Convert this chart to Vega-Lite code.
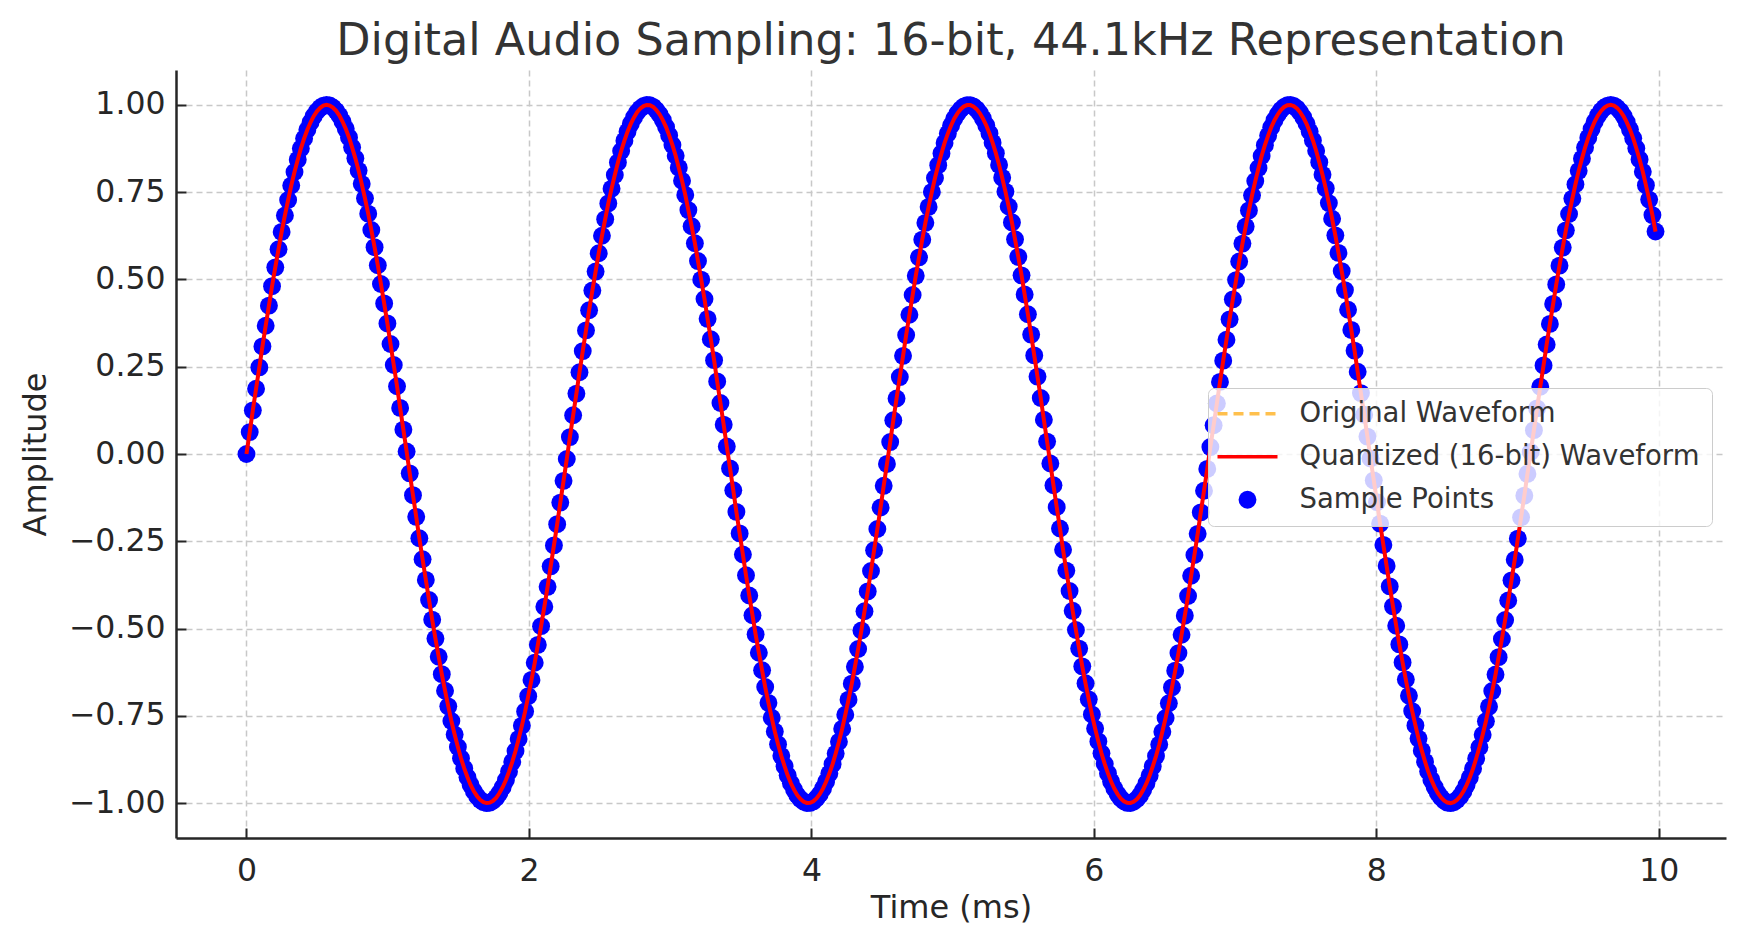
{
"$schema": "https://vega.github.io/schema/vega-lite/v6.json",
"width": 1550, "height": 768,
"autosize": {"type": "none"},
"padding": {"left": 176, "top": 70, "right": 20, "bottom": 109},
"background": "white",
"config": {"view": {"stroke": null}, "font": "DejaVu Sans"},
"title": {"text": "Digital Audio Sampling: 16-bit, 44.1kHz Representation", "font": "DejaVu Sans", "fontSize": 44.5, "fontWeight": "normal", "color": "#333333", "anchor": "middle", "baseline": "alphabetic", "offset": -29},
"datasets": {"samples": [
{"t":0,"y":0},{"t":0.023,"y":0.0627},{"t":0.045,"y":0.1251},{"t":0.068,"y":0.187},{"t":0.091,"y":0.2481},{"t":0.113,"y":0.3083},{"t":0.136,"y":0.3673},{"t":0.159,"y":0.4249},{"t":0.181,"y":0.4807},{"t":0.204,"y":0.5347},
{"t":0.227,"y":0.5866},{"t":0.249,"y":0.6362},{"t":0.272,"y":0.6833},{"t":0.295,"y":0.7277},{"t":0.317,"y":0.7692},{"t":0.34,"y":0.8078},{"t":0.363,"y":0.8431},{"t":0.385,"y":0.8751},{"t":0.408,"y":0.9037},{"t":0.431,"y":0.9288},
{"t":0.454,"y":0.9502},{"t":0.476,"y":0.9678},{"t":0.499,"y":0.9817},{"t":0.522,"y":0.9917},{"t":0.544,"y":0.9978},{"t":0.567,"y":1},{"t":0.59,"y":0.9982},{"t":0.612,"y":0.9926},{"t":0.635,"y":0.983},{"t":0.658,"y":0.9696},
{"t":0.68,"y":0.9523},{"t":0.703,"y":0.9314},{"t":0.726,"y":0.9068},{"t":0.748,"y":0.8785},{"t":0.771,"y":0.8469},{"t":0.794,"y":0.8119},{"t":0.816,"y":0.7738},{"t":0.839,"y":0.7326},{"t":0.862,"y":0.6885},{"t":0.884,"y":0.6417},
{"t":0.907,"y":0.5924},{"t":0.93,"y":0.5407},{"t":0.952,"y":0.487},{"t":0.975,"y":0.4313},{"t":0.998,"y":0.374},{"t":1.02,"y":0.3151},{"t":1.043,"y":0.255},{"t":1.066,"y":0.194},{"t":1.088,"y":0.1321},{"t":1.111,"y":0.0698},
{"t":1.134,"y":0.0071},{"t":1.156,"y":-0.0555},{"t":1.179,"y":-0.118},{"t":1.202,"y":-0.18},{"t":1.224,"y":-0.2412},{"t":1.247,"y":-0.3015},{"t":1.27,"y":-0.3607},{"t":1.293,"y":-0.4184},{"t":1.315,"y":-0.4745},{"t":1.338,"y":-0.5287},
{"t":1.361,"y":-0.5808},{"t":1.383,"y":-0.6307},{"t":1.406,"y":-0.6781},{"t":1.429,"y":-0.7228},{"t":1.451,"y":-0.7647},{"t":1.474,"y":-0.8035},{"t":1.497,"y":-0.8392},{"t":1.519,"y":-0.8716},{"t":1.542,"y":-0.9006},{"t":1.565,"y":-0.9261},
{"t":1.587,"y":-0.9479},{"t":1.61,"y":-0.966},{"t":1.633,"y":-0.9803},{"t":1.655,"y":-0.9907},{"t":1.678,"y":-0.9973},{"t":1.701,"y":-0.9999},{"t":1.723,"y":-0.9987},{"t":1.746,"y":-0.9934},{"t":1.769,"y":-0.9843},{"t":1.791,"y":-0.9713},
{"t":1.814,"y":-0.9545},{"t":1.837,"y":-0.934},{"t":1.859,"y":-0.9097},{"t":1.882,"y":-0.8819},{"t":1.905,"y":-0.8507},{"t":1.927,"y":-0.8161},{"t":1.95,"y":-0.7783},{"t":1.973,"y":-0.7374},{"t":1.995,"y":-0.6936},{"t":2.018,"y":-0.6471},
{"t":2.041,"y":-0.5981},{"t":2.063,"y":-0.5467},{"t":2.086,"y":-0.4932},{"t":2.109,"y":-0.4377},{"t":2.132,"y":-0.3805},{"t":2.154,"y":-0.3219},{"t":2.177,"y":-0.2619},{"t":2.2,"y":-0.2009},{"t":2.222,"y":-0.1392},{"t":2.245,"y":-0.0769},
{"t":2.268,"y":-0.0142},{"t":2.29,"y":0.0484},{"t":2.313,"y":0.1109},{"t":2.336,"y":0.173},{"t":2.358,"y":0.2343},{"t":2.381,"y":0.2948},{"t":2.404,"y":0.354},{"t":2.426,"y":0.4119},{"t":2.449,"y":0.4682},{"t":2.472,"y":0.5226},
{"t":2.494,"y":0.575},{"t":2.517,"y":0.6251},{"t":2.54,"y":0.6728},{"t":2.562,"y":0.7178},{"t":2.585,"y":0.76},{"t":2.608,"y":0.7993},{"t":2.63,"y":0.8353},{"t":2.653,"y":0.8681},{"t":2.676,"y":0.8975},{"t":2.698,"y":0.9234},
{"t":2.721,"y":0.9456},{"t":2.744,"y":0.9641},{"t":2.766,"y":0.9789},{"t":2.789,"y":0.9897},{"t":2.812,"y":0.9967},{"t":2.834,"y":0.9998},{"t":2.857,"y":0.999},{"t":2.88,"y":0.9942},{"t":2.902,"y":0.9855},{"t":2.925,"y":0.973},
{"t":2.948,"y":0.9566},{"t":2.971,"y":0.9365},{"t":2.993,"y":0.9127},{"t":3.016,"y":0.8853},{"t":3.039,"y":0.8544},{"t":3.061,"y":0.8202},{"t":3.084,"y":0.7827},{"t":3.107,"y":0.7422},{"t":3.129,"y":0.6987},{"t":3.152,"y":0.6525},
{"t":3.175,"y":0.6038},{"t":3.197,"y":0.5527},{"t":3.22,"y":0.4994},{"t":3.243,"y":0.4441},{"t":3.265,"y":0.3871},{"t":3.288,"y":0.3286},{"t":3.311,"y":0.2688},{"t":3.333,"y":0.2079},{"t":3.356,"y":0.1462},{"t":3.379,"y":0.084},
{"t":3.401,"y":0.0214},{"t":3.424,"y":-0.0413},{"t":3.447,"y":-0.1038},{"t":3.469,"y":-0.1659},{"t":3.492,"y":-0.2274},{"t":3.515,"y":-0.2879},{"t":3.537,"y":-0.3474},{"t":3.56,"y":-0.4054},{"t":3.583,"y":-0.4619},{"t":3.605,"y":-0.5166},
{"t":3.628,"y":-0.5692},{"t":3.651,"y":-0.6196},{"t":3.673,"y":-0.6675},{"t":3.696,"y":-0.7129},{"t":3.719,"y":-0.7554},{"t":3.741,"y":-0.795},{"t":3.764,"y":-0.8314},{"t":3.787,"y":-0.8646},{"t":3.81,"y":-0.8943},{"t":3.832,"y":-0.9206},
{"t":3.855,"y":-0.9433},{"t":3.878,"y":-0.9622},{"t":3.9,"y":-0.9774},{"t":3.923,"y":-0.9887},{"t":3.946,"y":-0.9962},{"t":3.968,"y":-0.9997},{"t":3.991,"y":-0.9993},{"t":4.014,"y":-0.9949},{"t":4.036,"y":-0.9867},{"t":4.059,"y":-0.9746},
{"t":4.082,"y":-0.9586},{"t":4.104,"y":-0.9389},{"t":4.127,"y":-0.9155},{"t":4.15,"y":-0.8885},{"t":4.172,"y":-0.8581},{"t":4.195,"y":-0.8242},{"t":4.218,"y":-0.7871},{"t":4.24,"y":-0.7469},{"t":4.263,"y":-0.7038},{"t":4.286,"y":-0.6579},
{"t":4.308,"y":-0.6095},{"t":4.331,"y":-0.5586},{"t":4.354,"y":-0.5055},{"t":4.376,"y":-0.4505},{"t":4.399,"y":-0.3937},{"t":4.422,"y":-0.3353},{"t":4.444,"y":-0.2756},{"t":4.467,"y":-0.2149},{"t":4.49,"y":-0.1533},{"t":4.512,"y":-0.0911},
{"t":4.535,"y":-0.0285},{"t":4.558,"y":0.0342},{"t":4.58,"y":0.0967},{"t":4.603,"y":0.1589},{"t":4.626,"y":0.2204},{"t":4.649,"y":0.2811},{"t":4.671,"y":0.3407},{"t":4.694,"y":0.3989},{"t":4.717,"y":0.4556},{"t":4.739,"y":0.5104},
{"t":4.762,"y":0.5633},{"t":4.785,"y":0.614},{"t":4.807,"y":0.6622},{"t":4.83,"y":0.7079},{"t":4.853,"y":0.7507},{"t":4.875,"y":0.7906},{"t":4.898,"y":0.8274},{"t":4.921,"y":0.861},{"t":4.943,"y":0.8912},{"t":4.966,"y":0.9178},
{"t":4.989,"y":0.9409},{"t":5.011,"y":0.9603},{"t":5.034,"y":0.9758},{"t":5.057,"y":0.9876},{"t":5.079,"y":0.9955},{"t":5.102,"y":0.9995},{"t":5.125,"y":0.9995},{"t":5.147,"y":0.9956},{"t":5.17,"y":0.9879},{"t":5.193,"y":0.9761},
{"t":5.215,"y":0.9607},{"t":5.238,"y":0.9414},{"t":5.261,"y":0.9184},{"t":5.283,"y":0.8918},{"t":5.306,"y":0.8617},{"t":5.329,"y":0.8282},{"t":5.351,"y":0.7915},{"t":5.374,"y":0.7516},{"t":5.397,"y":0.7089},{"t":5.42,"y":0.6633},
{"t":5.442,"y":0.6151},{"t":5.465,"y":0.5645},{"t":5.488,"y":0.5117},{"t":5.51,"y":0.4568},{"t":5.533,"y":0.4002},{"t":5.556,"y":0.342},{"t":5.578,"y":0.2825},{"t":5.601,"y":0.2218},{"t":5.624,"y":0.1603},{"t":5.646,"y":0.0982},
{"t":5.669,"y":0.0356},{"t":5.692,"y":-0.0271},{"t":5.714,"y":-0.0896},{"t":5.737,"y":-0.1519},{"t":5.76,"y":-0.2135},{"t":5.782,"y":-0.2743},{"t":5.805,"y":-0.334},{"t":5.828,"y":-0.3924},{"t":5.85,"y":-0.4492},{"t":5.873,"y":-0.5043},
{"t":5.896,"y":-0.5574},{"t":5.918,"y":-0.6083},{"t":5.941,"y":-0.6569},{"t":5.964,"y":-0.7028},{"t":5.986,"y":-0.746},{"t":6.009,"y":-0.7862},{"t":6.032,"y":-0.8234},{"t":6.054,"y":-0.8574},{"t":6.077,"y":-0.8879},{"t":6.1,"y":-0.915},
{"t":6.122,"y":-0.9384},{"t":6.145,"y":-0.9582},{"t":6.168,"y":-0.9743},{"t":6.19,"y":-0.9865},{"t":6.213,"y":-0.9948},{"t":6.236,"y":-0.9992},{"t":6.259,"y":-0.9997},{"t":6.281,"y":-0.9963},{"t":6.304,"y":-0.9889},{"t":6.327,"y":-0.9777},
{"t":6.349,"y":-0.9626},{"t":6.372,"y":-0.9437},{"t":6.395,"y":-0.9212},{"t":6.417,"y":-0.895},{"t":6.44,"y":-0.8653},{"t":6.463,"y":-0.8322},{"t":6.485,"y":-0.7958},{"t":6.508,"y":-0.7563},{"t":6.531,"y":-0.7139},{"t":6.553,"y":-0.6686},
{"t":6.576,"y":-0.6207},{"t":6.599,"y":-0.5704},{"t":6.621,"y":-0.5178},{"t":6.644,"y":-0.4632},{"t":6.667,"y":-0.4067},{"t":6.689,"y":-0.3487},{"t":6.712,"y":-0.2893},{"t":6.735,"y":-0.2288},{"t":6.757,"y":-0.1673},{"t":6.78,"y":-0.1052},
{"t":6.803,"y":-0.0427},{"t":6.825,"y":0.0199},{"t":6.848,"y":0.0825},{"t":6.871,"y":0.1448},{"t":6.893,"y":0.2065},{"t":6.916,"y":0.2674},{"t":6.939,"y":0.3273},{"t":6.961,"y":0.3858},{"t":6.984,"y":0.4428},{"t":7.007,"y":0.4981},
{"t":7.029,"y":0.5515},{"t":7.052,"y":0.6027},{"t":7.075,"y":0.6515},{"t":7.098,"y":0.6977},{"t":7.12,"y":0.7412},{"t":7.143,"y":0.7818},{"t":7.166,"y":0.8194},{"t":7.188,"y":0.8536},{"t":7.211,"y":0.8846},{"t":7.234,"y":0.9121},
{"t":7.256,"y":0.936},{"t":7.279,"y":0.9562},{"t":7.302,"y":0.9726},{"t":7.324,"y":0.9853},{"t":7.347,"y":0.994},{"t":7.37,"y":0.9989},{"t":7.392,"y":0.9999},{"t":7.415,"y":0.9968},{"t":7.438,"y":0.99},{"t":7.46,"y":0.9791},
{"t":7.483,"y":0.9645},{"t":7.506,"y":0.9461},{"t":7.528,"y":0.9239},{"t":7.551,"y":0.8982},{"t":7.574,"y":0.8688},{"t":7.596,"y":0.8361},{"t":7.619,"y":0.8001},{"t":7.642,"y":0.761},{"t":7.664,"y":0.7188},{"t":7.687,"y":0.6739},
{"t":7.71,"y":0.6263},{"t":7.732,"y":0.5762},{"t":7.755,"y":0.5239},{"t":7.778,"y":0.4695},{"t":7.8,"y":0.4132},{"t":7.823,"y":0.3554},{"t":7.846,"y":0.2961},{"t":7.868,"y":0.2357},{"t":7.891,"y":0.1744},{"t":7.914,"y":0.1123},
{"t":7.937,"y":0.0499},{"t":7.959,"y":-0.0128},{"t":7.982,"y":-0.0754},{"t":8.005,"y":-0.1378},{"t":8.027,"y":-0.1995},{"t":8.05,"y":-0.2605},{"t":8.073,"y":-0.3205},{"t":8.095,"y":-0.3792},{"t":8.118,"y":-0.4364},{"t":8.141,"y":-0.4919},
{"t":8.163,"y":-0.5455},{"t":8.186,"y":-0.597},{"t":8.209,"y":-0.646},{"t":8.231,"y":-0.6926},{"t":8.254,"y":-0.7364},{"t":8.277,"y":-0.7774},{"t":8.299,"y":-0.8152},{"t":8.322,"y":-0.8499},{"t":8.345,"y":-0.8813},{"t":8.367,"y":-0.9091},
{"t":8.39,"y":-0.9335},{"t":8.413,"y":-0.9541},{"t":8.435,"y":-0.971},{"t":8.458,"y":-0.984},{"t":8.481,"y":-0.9932},{"t":8.503,"y":-0.9986},{"t":8.526,"y":-1},{"t":8.549,"y":-0.9974},{"t":8.571,"y":-0.9909},{"t":8.594,"y":-0.9806},
{"t":8.617,"y":-0.9664},{"t":8.639,"y":-0.9484},{"t":8.662,"y":-0.9266},{"t":8.685,"y":-0.9013},{"t":8.707,"y":-0.8723},{"t":8.73,"y":-0.84},{"t":8.753,"y":-0.8044},{"t":8.776,"y":-0.7656},{"t":8.798,"y":-0.7238},{"t":8.821,"y":-0.6791},
{"t":8.844,"y":-0.6318},{"t":8.866,"y":-0.582},{"t":8.889,"y":-0.5299},{"t":8.912,"y":-0.4757},{"t":8.934,"y":-0.4197},{"t":8.957,"y":-0.362},{"t":8.98,"y":-0.3029},{"t":9.002,"y":-0.2426},{"t":9.025,"y":-0.1814},{"t":9.048,"y":-0.1194},
{"t":9.07,"y":-0.057},{"t":9.093,"y":0.0057},{"t":9.116,"y":0.0683},{"t":9.138,"y":0.1307},{"t":9.161,"y":0.1926},{"t":9.184,"y":0.2537},{"t":9.206,"y":0.3138},{"t":9.229,"y":0.3726},{"t":9.252,"y":0.43},{"t":9.274,"y":0.4857},
{"t":9.297,"y":0.5395},{"t":9.32,"y":0.5912},{"t":9.342,"y":0.6406},{"t":9.365,"y":0.6874},{"t":9.388,"y":0.7316},{"t":9.41,"y":0.7728},{"t":9.433,"y":0.8111},{"t":9.456,"y":0.8461},{"t":9.478,"y":0.8779},{"t":9.501,"y":0.9062},
{"t":9.524,"y":0.9308},{"t":9.546,"y":0.9519},{"t":9.569,"y":0.9692},{"t":9.592,"y":0.9827},{"t":9.615,"y":0.9924},{"t":9.637,"y":0.9981},{"t":9.66,"y":1},{"t":9.683,"y":0.9979},{"t":9.705,"y":0.9919},{"t":9.728,"y":0.982},
{"t":9.751,"y":0.9682},{"t":9.773,"y":0.9506},{"t":9.796,"y":0.9293},{"t":9.819,"y":0.9043},{"t":9.841,"y":0.8758},{"t":9.864,"y":0.8438},{"t":9.887,"y":0.8086},{"t":9.909,"y":0.7701},{"t":9.932,"y":0.7287},{"t":9.955,"y":0.6843},
{"t":9.977,"y":0.6373}
]},
"data": {"name": "samples"},
"encoding": {
  "x": {"field": "t", "type": "quantitative",
    "scale": {"domain": [-0.499, 10.476], "nice": false, "zero": false},
    "axis": {"title": "Time (ms)", "values": [0, 2, 4, 6, 8, 10], "format": "d",
      "labelFont": "DejaVu Sans", "labelFontSize": 31.5, "labelColor": "#262626", "labelFlush": false, "labelOverlap": false,
      "titleFont": "DejaVu Sans", "titleFontSize": 32, "titleFontWeight": "normal", "titleColor": "#262626", "titlePadding": 6,
      "domainColor": "#262626", "domainWidth": 2.5, "tickColor": "#262626", "tickWidth": 2, "tickSize": -10, "labelPadding": 27,
      "grid": true, "gridColor": "#c8c8c8", "gridDash": [6, 4], "gridWidth": 1.5}},
  "y": {"field": "y", "type": "quantitative",
    "scale": {"domain": [-1.1, 1.1], "nice": false, "zero": false},
    "axis": {"title": "Amplitude", "values": [-1, -0.75, -0.5, -0.25, 0, 0.25, 0.5, 0.75, 1], "format": ".2f",
      "labelFont": "DejaVu Sans", "labelFontSize": 31.5, "labelColor": "#262626", "labelFlush": false, "labelOverlap": false,
      "titleFont": "DejaVu Sans", "titleFontSize": 32, "titleFontWeight": "normal", "titleColor": "#262626", "titlePadding": 16,
      "domainColor": "#262626", "domainWidth": 2.5, "tickColor": "#262626", "tickWidth": 2, "tickSize": -10, "labelPadding": 21,
      "grid": true, "gridColor": "#c8c8c8", "gridDash": [6, 4], "gridWidth": 1.5}}
},
"layer": [
  {"mark": {"type": "line", "strokeDash": [9, 5], "strokeWidth": 2.5},
   "encoding": {"color": {"datum": "Original Waveform", "type": "nominal",
     "scale": {"domain": ["Original Waveform", "Quantized (16-bit) Waveform", "Sample Points"], "range": ["#ffc04d", "#ff0000", "#0000ff"]},
     "legend": {"orient": "none", "legendX": 1032, "legendY": 318, "title": null,
       "symbolType": "stroke", "symbolSize": 3600, "symbolStrokeWidth": 3.5,
       "labelFont": "DejaVu Sans", "labelFontSize": 27.5, "labelColor": "#333333", "labelOffset": 52, "labelLimit": 1000,
       "rowPadding": 14, "padding": 12,
       "fillColor": "rgba(255,255,255,0.8)", "strokeColor": "#cccccc", "cornerRadius": 6,
       "encode": {"symbols": {"update": {
         "x": {"value": 27.5},
         "shape": {"signal": "datum.label == 'Sample Points' ? 'circle' : 'stroke'"},
         "size": {"signal": "datum.label == 'Sample Points' ? 320 : 3600"},
         "strokeDash": {"signal": "datum.label == 'Original Waveform' ? [10, 6] : [1, 0]"},
         "fill": {"signal": "datum.label == 'Sample Points' ? '#0000ff' : 'transparent'"},
         "stroke": {"signal": "datum.label == 'Original Waveform' ? '#ffc04d' : datum.label == 'Sample Points' ? '#0000ff' : '#ff0000'"},
         "strokeWidth": {"signal": "datum.label == 'Sample Points' ? 0 : 3.5"},
         "opacity": {"value": 1}
       }}}}}}},
  {"mark": {"type": "circle", "size": 320, "opacity": 1},
   "encoding": {"color": {"datum": "Sample Points", "type": "nominal"}}},
  {"mark": {"type": "line", "strokeWidth": 4},
   "encoding": {"color": {"datum": "Quantized (16-bit) Waveform", "type": "nominal"}}}
]
}
